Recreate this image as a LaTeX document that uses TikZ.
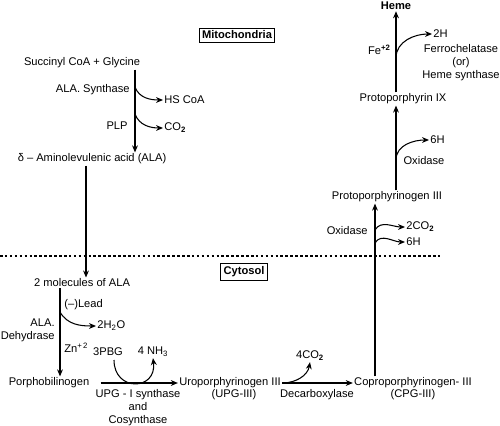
\documentclass[tikz,border=0pt]{standalone}
\usepackage{fontspec}
\setmainfont{Liberation Sans}
\usetikzlibrary{arrows.meta}

\begin{document}
\begin{tikzpicture}[
    x=0.03cm, y=-0.03cm,
    font=\fontsize{9.5}{11}\selectfont,
    every node/.style={inner sep=1pt},
    region/.style={draw, thick, font=\fontsize{9.5}{11}\selectfont\bfseries, inner sep=2.5pt},
    arrow/.style={->, >={Stealth[length=6pt, width=5pt]}, line width=0.9pt}
]
    \useasboundingbox (0,0) rectangle (500,426);

    % compartments
    \node[region] (mito) at (237,35) {Mitochondria};
    \node[region] (cyto) at (244,272) {Cytosol};
    \draw[line width=0.9pt, dash pattern=on 2.2pt off 2pt] (0,256) -- (440,256);

    % mitochondria, first step
    \node (succ) at (82,63) {Succinyl CoA + Glycine};
    \node (ala) at (92,159) {δ – Aminolevulenic acid (ALA)};
    \node[anchor=east] (alas) at (131,90) {ALA. Synthase};
    \node[anchor=west] (hscoa) at (163,100) {HS CoA};
    \node[anchor=east] (plp) at (129,126) {PLP};
    \node[anchor=west] (co2a) at (163,128) {CO\textsubscript{\textbf{2}}};
    \coordinate (s1) at (135,0);
    \coordinate (b1) at (135,87);
    \coordinate (b2) at (135,114);
    \draw[arrow] (succ.south -| s1) -- (ala.north -| s1);
    \draw[arrow] (b1) to[out=-70, in=180] (hscoa.west);
    \draw[arrow] (b2) to[out=-70, in=180] (co2a.west);

    % cytosol
    \node (two) at (82,283) {2 molecules of ALA};
    \coordinate (s2) at (86,0);
    \draw[arrow] (ala.south -| s2) -- (two.north -| s2);

    \node (porpho) at (49,383) {Porphobilinogen};
    \node[anchor=west] (lead) at (63,305) {(–)Lead};
    \node[anchor=west] (h2o) at (96,326) {2H\textsubscript{2}O};
    \node[anchor=east, align=right] (dehyd) at (56,330) {ALA.\\Dehydrase};
    \node[anchor=west] (zn) at (63,348) {Zn\textsuperscript{+\,2}};
    \coordinate (s3) at (60,0);
    \coordinate (b3) at (60,312);
    \draw[arrow] (two.south -| s3) -- (porpho.north -| s3);
    \draw[arrow] (b3) to[out=-60, in=180] (h2o.west);

    \node (uro) at (230,383) {Uroporphyrinogen III};
    \node (upg) at (234,395) {(UPG-III)};
    \node (pbg) at (108,352) {3PBG};
    \node (nh3) at (153,352) {4 NH\textsubscript{3}};
    \node[anchor=north, align=center] (upgsyn) at (138,388) {UPG - I synthase\\and\\Cosynthase};
    \coordinate (b8) at (114,360);
    \draw[arrow] (porpho.east) ++(10,0) -- (uro.west);
    \draw[arrow] (b8) .. controls (114,392) and (157,391) .. (nh3.south);

    \node (copro) at (413,383) {Coproporphyrinogen- III};
    \node (cpg) at (413,395) {(CPG-III)};
    \node (co2b) at (310,356) {4CO\textsubscript{\textbf{2}}};
    \node (decarb) at (317,395) {Decarboxylase};
    \draw[arrow] (uro.east) -- (copro.west);
    \draw[arrow] (uro.east) to[out=0, in=-100] (co2b.south);

    % back into mitochondria
    \node (protogen) at (387,197) {Protoporphyrinogen III};
    \node[anchor=east] (oxid1) at (369,231) {Oxidase};
    \node[anchor=west] (co2c) at (405,227) {2CO\textsubscript{\textbf{2}}};
    \node[anchor=west] (h6a) at (405,242) {6H};
    \coordinate (s4) at (375,0);
    \coordinate (b4) at (375,230);
    \coordinate (b5) at (375,243);
    \draw[arrow] (copro.north -| s4) -- (protogen.south -| s4);
    \draw[arrow] (b4) to[out=60, in=180] (co2c.west);
    \draw[arrow] (b5) to[out=60, in=180] (h6a.west);

    \node (protoix) at (403,99) {Protoporphyrin IX};
    \node[anchor=west] (h6b) at (429,140) {6H};
    \node (oxid2) at (424,161) {Oxidase};
    \coordinate (s5) at (396,0);
    \coordinate (b6) at (396,160);
    \draw[arrow] (protogen.north -| s5) -- (protoix.south -| s5);
    \draw[arrow] (b6) to[out=90, in=180] (h6b.west);

    \node[font=\fontsize{9.5}{11}\selectfont\bfseries] (heme) at (396,6) {Heme};
    \node[anchor=east] (fe) at (392,50) {Fe\textsuperscript{\textbf{+2}}};
    \node[anchor=west] (h2) at (432,34) {2H};
    \node[align=center] (ferro) at (461,63) {Ferrochelatase\\(or)\\Heme synthase};
    \coordinate (b7) at (396,58);
    \draw[arrow] (protoix.north -| s5) -- (heme.south -| s5);
    \draw[arrow] (b7) to[out=90, in=180] (h2.west);
\end{tikzpicture}
\end{document}
